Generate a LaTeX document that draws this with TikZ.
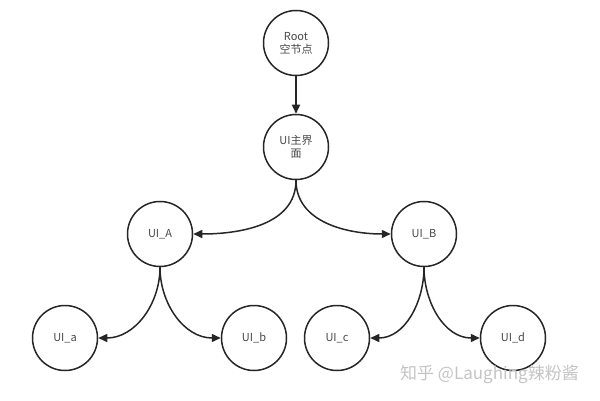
\documentclass[tikz,border=0pt]{standalone}
\usepackage{fontspec}
\setmainfont{Noto Sans CJK SC}
\usetikzlibrary{arrows.meta}
\definecolor{ink}{HTML}{262626}
\definecolor{wm}{HTML}{C4C4C4}
\tikzset{
  treenode/.style={circle, draw=ink, line width=1.5pt, minimum size=65pt, inner sep=0pt,
    align=center, font=\fontsize{11}{13}\selectfont, text=ink!85},
  link/.style={draw=ink, line width=1.5pt, -{Triangle[length=9pt,width=8pt]}},
}
\begin{document}
\begin{tikzpicture}[x=1pt,y=-1pt]
\useasboundingbox (0,0) rectangle (600,401);
\node[treenode] (root) at (296,43) {Root\\空节点};
\node[treenode] (main) at (296,147) {UI主界\\面};
\node[treenode] (A) at (160,234) {UI\_A};
\node[treenode] (B) at (424,234) {UI\_B};
\node[treenode] (a) at (65,338) {UI\_a};
\node[treenode] (b) at (254,338) {UI\_b};
\node[treenode] (c) at (337,338) {UI\_c};
\node[treenode] (d) at (513,338) {UI\_d};
\node[font=\fontsize{17}{19}\selectfont, text=wm, anchor=west, inner sep=0pt] (wmark) at (400,374) {知乎 @Laughing辣粉酱};
\draw[link] (root.south) -- (main.north);
\draw[link] (main.south) to[out=-90,in=0] (A.east);
\draw[link] (main.south) to[out=-90,in=180] (B.west);
\draw[link] (A.south) to[out=-90,in=0] (a.east);
\draw[link] (A.south) to[out=-90,in=180] (b.west);
\draw[link] (B.south) to[out=-90,in=0] (c.east);
\draw[link] (B.south) to[out=-90,in=180] (d.west);
\end{tikzpicture}
\end{document}
